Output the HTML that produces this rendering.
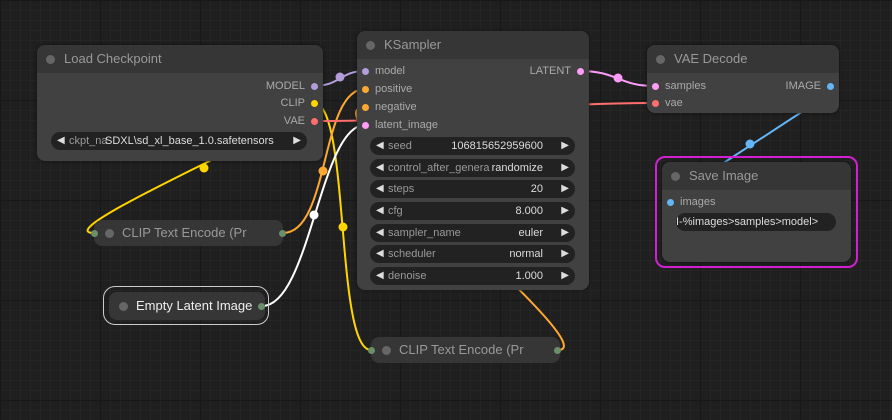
<!DOCTYPE html>
<html><head><meta charset="utf-8"><style>
body{margin:0;width:892px;height:420px;overflow:hidden;background:#1f1f1f;font-family:"Liberation Sans",Arial,sans-serif;}
.grid{position:absolute;left:0;top:0;width:892px;height:420px;
background-image:linear-gradient(#181818 1px,transparent 1px),linear-gradient(90deg,#181818 1px,transparent 1px),linear-gradient(#252525 1px,transparent 1px),linear-gradient(90deg,#252525 1px,transparent 1px);
background-size:100px 100px,100px 100px,10px 10px,10px 10px;}
.node{position:absolute;background:#414141;border-radius:8px;overflow:hidden;box-shadow:0 0 3px #111;}
.title{height:28px;background:#363636;color:#999;font-size:13px;line-height:28px;padding-left:27px;position:relative;}
.title:before{content:"";position:absolute;left:9px;top:10px;width:9px;height:9px;border-radius:50%;background:#666;}
.lbl{position:absolute;font-size:11px;color:#aaa;}
.dot{position:absolute;width:7px;height:7px;border-radius:50%;}
.w{position:absolute;height:18px;background:#222;border-radius:9px;font-size:11px;line-height:18px;color:#999;white-space:nowrap;}
.w .l{position:absolute;left:18px}
.w .v{position:absolute;right:32px;color:#ddd}
.w:before{content:"◀";position:absolute;left:6px;color:#ddd;font-size:10px}
.w:after{content:"▶";position:absolute;right:6px;color:#ddd;font-size:10px}
.col{position:absolute;background:#363636;border-radius:8px;height:26px;color:#999;font-size:13px;line-height:26px;white-space:nowrap;}
</style></head><body>
<div class="grid"></div>
<svg width="892" height="420" style="position:absolute;left:0;top:0" fill="none" stroke-width="2">
<path d="M314 86 C340 86,340 71,365 71" stroke="#b39ddb"/>
<path d="M314 103 C345 103,40 233,94 233" stroke="#ffd500"/>
<path d="M314 103 C350 103,335 350,371 350" stroke="#ffd500"/>
<path d="M283 233 C330 233,320 89,365 89" stroke="#ffa931"/>
<path d="M558 350 C610 350,300 107,365 107" stroke="#ffa931"/>
<path d="M262 306 C310 306,320 125,365 125" stroke="#fff"/>
<path d="M314 121 C480 121,500 103,655 103" stroke="#ff6e6e"/>
<path d="M580 71 C618 71,618 86,655 86" stroke="#ff9cf9"/>
<path d="M820 100 L670 198" stroke="#64b5f6"/>
<circle cx="340" cy="77" r="4.5" fill="#b39ddb"/>
<circle cx="204" cy="168" r="4.5" fill="#ffd500"/>
<circle cx="343" cy="227" r="4.5" fill="#ffd500"/>
<circle cx="323" cy="171" r="4.5" fill="#ffa931"/>
<circle cx="314" cy="215" r="4.5" fill="#fff"/>
<circle cx="618" cy="78" r="4.5" fill="#ff9cf9"/>
<circle cx="750" cy="144" r="4.5" fill="#64b5f6"/>
</svg>

<div class="node" style="left:37px;top:45px;width:286px;height:116px">
<div class="title">Load Checkpoint</div>
<div class="lbl" style="right:18px;top:35px">MODEL</div><div class="dot" style="right:5px;top:38px;background:#b39ddb"></div>
<div class="lbl" style="right:18px;top:52px">CLIP</div><div class="dot" style="right:5px;top:55px;background:#ffd500"></div>
<div class="lbl" style="right:18px;top:70px">VAE</div><div class="dot" style="right:5px;top:73px;background:#ff6e6e"></div>
<div class="w" style="left:14px;top:87px;width:256px"><span class="l">ckpt_na</span><span class="v" style="right:auto;left:54px">SDXL\sd_xl_base_1.0.safetensors</span></div>
</div>

<div class="node" style="left:357px;top:31px;width:232px;height:259px">
<div class="title">KSampler</div>
<div class="dot" style="left:5px;top:37px;background:#b39ddb"></div><div class="lbl" style="left:18px;top:34px">model</div>
<div class="lbl" style="right:18px;top:34px">LATENT</div><div class="dot" style="right:5px;top:37px;background:#ff9cf9"></div>
<div class="dot" style="left:5px;top:55px;background:#ffa931"></div><div class="lbl" style="left:18px;top:52px">positive</div>
<div class="dot" style="left:5px;top:73px;background:#ffa931"></div><div class="lbl" style="left:18px;top:70px">negative</div>
<div class="dot" style="left:5px;top:91px;background:#ff9cf9"></div><div class="lbl" style="left:18px;top:88px">latent_image</div>
<div class="w" style="left:13px;top:106px;width:205px"><span class="l">seed</span><span class="v">106815652959600</span></div>
<div class="w" style="left:13px;top:128px;width:205px"><span class="l">control_after_genera</span><span class="v">randomize</span></div>
<div class="w" style="left:13px;top:149px;width:205px"><span class="l">steps</span><span class="v">20</span></div>
<div class="w" style="left:13px;top:171px;width:205px"><span class="l">cfg</span><span class="v">8.000</span></div>
<div class="w" style="left:13px;top:193px;width:205px"><span class="l">sampler_name</span><span class="v">euler</span></div>
<div class="w" style="left:13px;top:214px;width:205px"><span class="l">scheduler</span><span class="v">normal</span></div>
<div class="w" style="left:13px;top:236px;width:205px"><span class="l">denoise</span><span class="v">1.000</span></div>
</div>

<div class="node" style="left:647px;top:45px;width:192px;height:68px">
<div class="title">VAE Decode</div>
<div class="dot" style="left:5px;top:38px;background:#ff9cf9"></div><div class="lbl" style="left:18px;top:35px">samples</div>
<div class="dot" style="left:5px;top:55px;background:#ff6e6e"></div><div class="lbl" style="left:18px;top:52px">vae</div>
<div class="lbl" style="right:18px;top:35px">IMAGE</div><div class="dot" style="right:5px;top:38px;background:#64b5f6"></div>
</div>

<div style="position:absolute;left:655px;top:156px;width:199px;height:108px;border:2px solid #d21fd2;border-radius:10px"></div>
<div class="node" style="left:662px;top:162px;width:189px;height:100px">
<div class="title">Save Image</div>
<div class="dot" style="left:5px;top:37px;background:#64b5f6"></div><div class="lbl" style="left:18px;top:34px">images</div>
<div style="position:absolute;left:14px;top:51px;width:160px;height:18px;background:#222;border-radius:9px;font-size:11px;line-height:18px;color:#ddd;white-space:nowrap">I-%images&gt;samples&gt;model&gt;</div>
</div>

<div class="col" style="left:94px;top:220px;width:189px"><span style="position:absolute;left:28px">CLIP Text Encode (Pr</span>
<div class="dot" style="left:-3px;top:10px;background:#6b8e6b"></div><div class="dot" style="left:11px;top:9px;width:9px;height:9px;background:#666"></div><div class="dot" style="right:-3px;top:10px;background:#6b8e6b"></div></div>

<div style="position:absolute;left:103px;top:286px;width:164px;height:37px;border:1px solid #ccc;border-radius:12px"></div>
<div class="col" style="left:109px;top:292px;width:156px;height:28px;line-height:28px;color:#eee"><span style="position:absolute;left:27px">Empty Latent Image</span>
<div class="dot" style="left:10px;top:10px;width:9px;height:9px;background:#666"></div><div class="dot" style="right:0px;top:11px;background:#6b8e6b"></div></div>

<div class="col" style="left:371px;top:337px;width:189px"><span style="position:absolute;left:28px">CLIP Text Encode (Pr</span>
<div class="dot" style="left:-3px;top:10px;background:#6b8e6b"></div><div class="dot" style="left:11px;top:9px;width:9px;height:9px;background:#666"></div><div class="dot" style="right:-1px;top:10px;background:#6b8e6b"></div></div>
</body></html>
